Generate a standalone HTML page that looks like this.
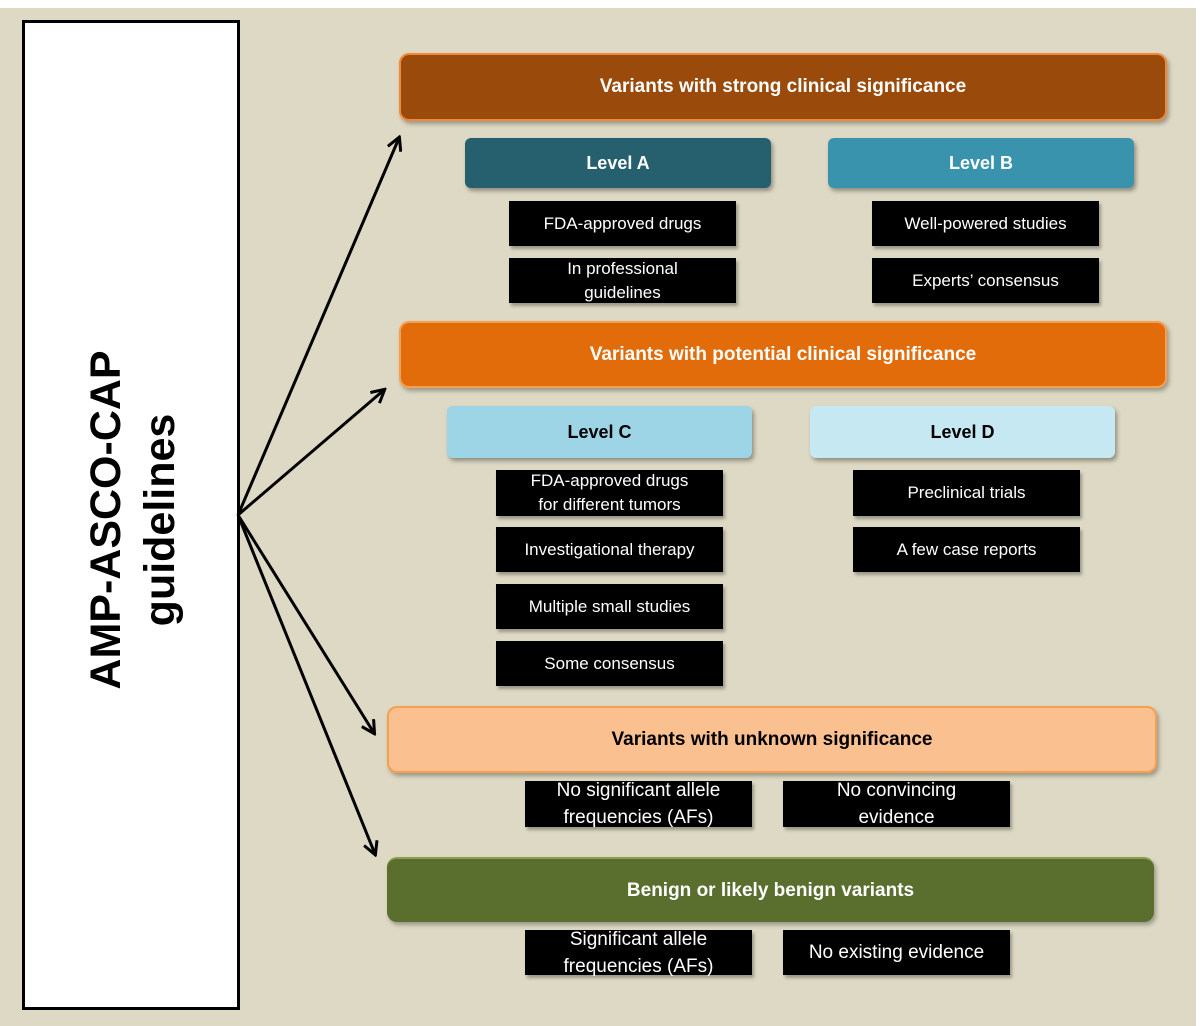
<!DOCTYPE html>
<html><head><style>
body{margin:0;width:1200px;height:1026px;background:#fff;position:relative;overflow:hidden;font-family:"Liberation Sans",sans-serif}
.bg{position:absolute;left:0;top:8px;width:1196px;height:1018px;background:#ddd9c4}
.b{position:absolute;box-sizing:border-box;display:flex;align-items:center;justify-content:center;text-align:center}
.h{border-radius:10px;font-weight:bold;font-size:19px;box-shadow:2px 3px 4px rgba(0,0,0,.3)}
.l{border-radius:6px;font-weight:bold;font-size:18px;box-shadow:2px 3px 4px rgba(0,0,0,.35)}
.k{background:#000;color:#fff;font-size:17px;line-height:24px;box-shadow:2px 3px 3px rgba(0,0,0,.3)}
.k2{font-size:19px;line-height:27px}
</style></head><body>
<div class="bg"></div>
<div style="position:absolute;left:22px;top:20px;width:218px;height:990px;box-sizing:border-box;border:3px solid #000;background:#fff"></div>
<div style="position:absolute;left:133px;top:520px;transform:translate(-50%,-50%) rotate(-90deg);white-space:nowrap;text-align:center;font-weight:bold;font-size:43px;line-height:54px">AMP-ASCO-CAP<br>guidelines</div>
<svg style="position:absolute;left:0;top:0" width="1200" height="1026">
<defs><marker id="a" markerWidth="16" markerHeight="16" refX="13" refY="8" orient="auto" markerUnits="userSpaceOnUse"><path d="M1,1 L14,8 L1,15" fill="none" stroke="#000" stroke-width="3"/></marker></defs>
<g stroke="#000" stroke-width="3" fill="none" marker-end="url(#a)">
<line x1="238" y1="515" x2="399" y2="138"/>
<line x1="238" y1="515" x2="384" y2="390"/>
<line x1="238" y1="515" x2="374" y2="733"/>
<line x1="238" y1="515" x2="375" y2="854"/>
</g></svg>
<div class="b h" style="left:399px;top:53px;width:768px;height:68px;background:#9a4a0a;border:2px solid #f08a3a;color:#fff">Variants with strong clinical significance</div>
<div class="b l" style="left:465px;top:138px;width:306px;height:50px;background:#26606f;color:#fff">Level A</div>
<div class="b l" style="left:828px;top:138px;width:306px;height:50px;background:#3a93ad;color:#fff">Level B</div>
<div class="b k" style="left:509px;top:201px;width:227px;height:45px">FDA-approved drugs</div>
<div class="b k" style="left:509px;top:258px;width:227px;height:45px">In professional<br>guidelines</div>
<div class="b k" style="left:872px;top:201px;width:227px;height:45px">Well-powered studies</div>
<div class="b k" style="left:872px;top:258px;width:227px;height:45px">Experts’ consensus</div>
<div class="b h" style="left:399px;top:321px;width:768px;height:67px;background:#e36c0a;border:2px solid #f5a050;color:#fff">Variants with potential clinical significance</div>
<div class="b l" style="left:447px;top:406px;width:305px;height:52px;background:#9dd5e6;color:#000">Level C</div>
<div class="b l" style="left:810px;top:406px;width:305px;height:52px;background:#c6e8f2;color:#000">Level D</div>
<div class="b k" style="left:496px;top:470px;width:227px;height:46px">FDA-approved drugs<br>for different tumors</div>
<div class="b k" style="left:496px;top:527px;width:227px;height:45px">Investigational therapy</div>
<div class="b k" style="left:496px;top:584px;width:227px;height:45px">Multiple small studies</div>
<div class="b k" style="left:496px;top:641px;width:227px;height:45px">Some consensus</div>
<div class="b k" style="left:853px;top:470px;width:227px;height:46px">Preclinical trials</div>
<div class="b k" style="left:853px;top:527px;width:227px;height:45px">A few case reports</div>
<div class="b h" style="left:387px;top:706px;width:770px;height:67px;background:#fac090;border:2px solid #f5a050;color:#000">Variants with unknown significance</div>
<div class="b k k2" style="left:525px;top:781px;width:227px;height:46px">No significant allele<br>frequencies (AFs)</div>
<div class="b k k2" style="left:783px;top:781px;width:227px;height:46px">No convincing<br>evidence</div>
<div class="b h" style="left:387px;top:857px;width:767px;height:65px;background:#5a6e2e;border-top:2px solid #8aa050;color:#fff">Benign or likely benign variants</div>
<div class="b k k2" style="left:525px;top:930px;width:227px;height:45px">Significant allele<br>frequencies (AFs)</div>
<div class="b k k2" style="left:783px;top:930px;width:227px;height:45px">No existing evidence</div>
</body></html>
